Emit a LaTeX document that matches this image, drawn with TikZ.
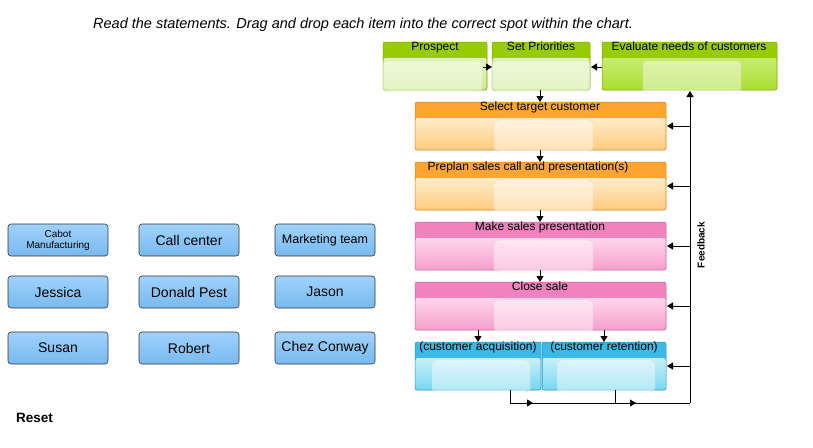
\documentclass[tikz,border=0pt]{standalone}
\usepackage{fontspec}
\setmainfont{Liberation Sans}
\usetikzlibrary{arrows.meta}
\definecolor{gH}{RGB}{153,204,0}
\definecolor{gT}{RGB}{226,244,190}
\definecolor{gB}{RGB}{205,236,150}
\definecolor{gT2}{RGB}{200,236,110}
\definecolor{gB2}{RGB}{170,222,50}
\definecolor{oH}{RGB}{255,165,50}
\definecolor{oT}{RGB}{255,236,200}
\definecolor{oB}{RGB}{255,205,130}
\definecolor{pH}{RGB}{240,130,190}
\definecolor{pT}{RGB}{255,215,235}
\definecolor{pB}{RGB}{245,160,205}
\definecolor{bH}{RGB}{60,185,230}
\definecolor{bT}{RGB}{200,240,250}
\definecolor{bB}{RGB}{120,215,240}
\definecolor{btnT}{RGB}{160,210,250}
\definecolor{btnB}{RGB}{120,185,240}
\begin{document}
\begin{tikzpicture}[x=1pt,y=-1pt,
 hdr/.style={font=\fontsize{12}{13}\selectfont, anchor=north, inner sep=1pt},
 btn/.style={draw=black!80, rounded corners=3pt, top color=btnT, bottom color=btnB, minimum width=100pt, minimum height=32pt, font=\fontsize{14}{16}\selectfont, align=center, line width=0.6pt},
 inner/.style={draw=black!15, rounded corners=4pt, fill=white, fill opacity=0.45},
 arr/.style={-{Triangle[length=6pt,width=7pt]}, line width=1pt},
 ln/.style={line width=1pt}]
\useasboundingbox (0,0) rectangle (813,447);
\node[anchor=west, inner sep=0pt, font=\itshape\fontsize{14.5}{16}\selectfont] (title) at (93,25) {Read the statements. Drag and drop each item into the correct spot within the chart.};
\node[anchor=west, inner sep=0pt, font=\bfseries\fontsize{13.5}{15}\selectfont] (reset) at (16,418) {Reset};
\newcommand{\mybox}[8]{%
 \fill[#6, rounded corners=2pt] (#2,#3) rectangle (#4,#5);
 \shade[top color=#7, bottom color=#8, rounded corners=2pt] (#2+0.5,#3+16) rectangle (#4-0.5,#5-0.5);
 \draw[#6!80!black, rounded corners=2pt, line width=0.5pt] (#2,#3) rectangle (#4,#5);
 \coordinate (#1) at ({(#2+#4)/2},{(#3+#5)/2});}
\mybox{pr}{383}{42}{487}{90}{gH}{gT}{gB}
\mybox{sp}{492}{42}{590}{90}{gH}{gT}{gB}
\mybox{ev}{602}{42}{777}{90}{gH}{gT2}{gB2}
\node[hdr] (prh) at (435,41) {Prospect};
\node[hdr] (sph) at (541,41) {Set Priorities};
\node[hdr] (evh) at (689,41) {Evaluate needs of customers};
\draw[inner] (383,61) rectangle (482,92);
\draw[inner] (492,61) rectangle (590,92);
\draw[inner] (643,61) rectangle (741,93);
\mybox{st}{415}{102}{666}{150}{oH}{oT}{oB}
\mybox{pp}{415}{162}{666}{210}{oH}{oT}{oB}
\node[hdr] (sth) at (540,101) {Select target customer};
\node[hdr] (pph) at (528,161) {Preplan sales call and presentation(s)};
\draw[inner] (494,120) rectangle (593,152);
\draw[inner] (494,180) rectangle (593,212);
\mybox{ms}{415}{222}{666}{270}{pH}{pT}{pB}
\mybox{cs}{415}{282}{666}{330}{pH}{pT}{pB}
\node[hdr] (msh) at (540,221) {Make sales presentation};
\node[hdr] (csh) at (540,281) {Close sale};
\draw[inner] (494,240) rectangle (593,272);
\draw[inner] (494,300) rectangle (593,332);
\mybox{ca}{415}{342}{541}{390}{bH}{bT}{bB}
\mybox{cr}{542}{342}{666}{390}{bH}{bT}{bB}
\node[hdr] (cah) at (478,341) {(customer acquisition)};
\node[hdr] (crh) at (604,341) {(customer retention)};
\draw[inner] (432,360) rectangle (530,392);
\draw[inner] (557,360) rectangle (655,392);
\coordinate (prr) at (483,67); \coordinate (spl) at (492,67);
\draw[arr] (prr) -- (spl);
\coordinate (evl) at (602,67); \coordinate (spr) at (591,67);
\draw[arr] (evl) -- (spr);
\draw[arr] (540,90) -- (540,102);
\draw[arr] (540,150) -- (540,162);
\draw[arr] (540,210) -- (540,222);
\draw[arr] (540,270) -- (540,282);
\draw[arr] (478,330) -- (478,342);
\draw[arr] (604,330) -- (604,342);
\coordinate (fb0) at (690,403);
\draw[arr] (fb0) -- (690,91);
\foreach \y in {126,186,246,306,366} \draw[arr] (690,\y) -- (667,\y);
\draw[ln] (510,390) -- (510,403) -- (fb0);
\draw[ln] (615,390) -- (615,403);
\draw[arr] (520,403) -- (533,403);
\draw[arr] (623,403) -- (636,403);
\node[rotate=90, font=\bfseries\fontsize{10}{11}\selectfont] (fbl) at (701,245) {Feedback};
\node[btn, font=\fontsize{10}{11}\selectfont] (b1) at (58,240) {Cabot\\Manufacturing};
\node[btn] (b2) at (189,240) {Call center};
\node[btn, font=\fontsize{12.5}{14}\selectfont] (b3) at (325,240) {Marketing team};
\node[btn] (b4) at (58,292) {Jessica};
\node[btn] (b5) at (189,292) {Donald Pest};
\node[btn] (b6) at (325,292) {Jason};
\node[btn] (b7) at (58,348) {Susan};
\node[btn] (b8) at (189,348) {Robert};
\node[btn] (b9) at (325,348) {Chez Conway};
\end{tikzpicture}
\end{document}
